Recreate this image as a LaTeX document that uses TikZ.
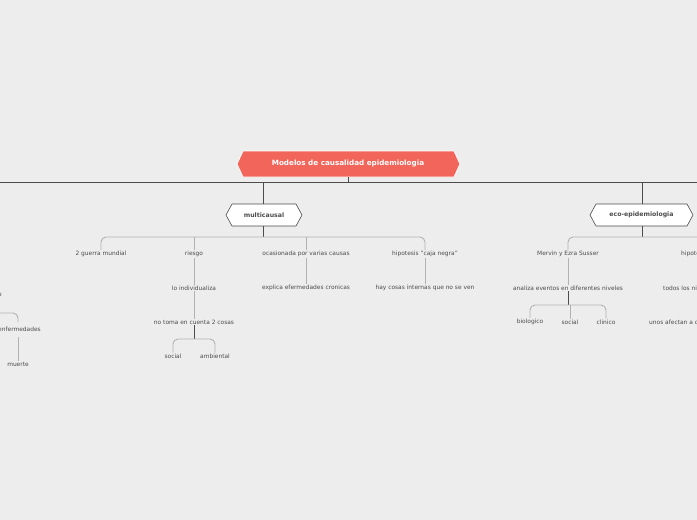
\documentclass[tikz,border=0pt]{standalone}
\usepackage{fontspec}
\setmainfont{DejaVu Sans}
\usetikzlibrary{positioning}
\definecolor{rootred}{HTML}{F2655B}

\begin{document}
\begin{tikzpicture}[
        x=1pt, y=-1pt,
        every node/.style={font=\fontsize{5.9}{6.5}\selectfont, text=black!70, inner sep=1pt},
        bold/.style={font=\fontsize{6.2}{7}\selectfont\bfseries},
        lnk/.style={draw=black!30, line width=0.9pt, rounded corners=5pt},
        main/.style={draw=black!70, line width=0.8pt}
    ]
        \useasboundingbox (0,0) rectangle (697,520);
        \clip (0,0) rectangle (697,520);
        \fill[black!7] (0,0) rectangle (697,520);

        % hexagons
        \fill[rootred, draw=white, line width=0.8pt] (237,164) -- (243,151) -- (454,151) -- (460,164) -- (454,177) -- (243,177) -- cycle;
        \node[font=\fontsize{7.2}{8}\selectfont\bfseries, text=white] (root) at (348,164) {Modelos de causalidad epidemiologia};
        \fill[white, draw=black!70, line width=0.6pt] (226,215) -- (232,204) -- (296,204) -- (302,215) -- (296,226) -- (232,226) -- cycle;
        \node[bold] (multi) at (264,215) {multicausal};
        \fill[white, draw=black!70, line width=0.6pt] (590,215) -- (596,204) -- (687,204) -- (693,215) -- (687,226) -- (596,226) -- cycle;
        \node[bold] (eco) at (641.5,215) {eco-epidemiologia};

        \coordinate (bus) at (348,182);
        \draw[main] (348,177) -- (bus);
        \draw[main] (0,182) -- (697,182);
        \draw[main] (263,182) -- (263,204);
        \draw[main] (642,182) -- (642,204);

        % multicausal branch
        \node (guerra) at (101,254) {2 guerra mundial};
        \node (riesgo) at (194,254) {riesgo};
        \node (ocas) at (306,254) {ocasionada por varias causas};
        \node (caja) at (425,254) {hipotesis "caja negra"};
        \draw[main] (263,226) -- (263,237);
        \draw[lnk] (guerra.north) -- (101,237) -- (425,237) -- (caja.north);
        \draw[lnk] (194,237) -- (riesgo.north);
        \draw[lnk] (306,237) -- (ocas.north);

        \node (indiv) at (194,288) {lo individualiza};
        \node (notoma) at (194,322) {no toma en cuenta 2 cosas};
        \node (social) at (173,356) {social};
        \node (amb) at (215,356) {ambiental};
        \node (explica) at (306,288) {explica efermedades cronicas};
        \node (ocultas) at (425,288) {hay cosas internas que no se ven};
        \draw[lnk] (riesgo) -- (indiv);
        \draw[lnk] (indiv) -- (notoma);
        \draw[lnk] (ocas) -- (explica);
        \draw[lnk] (caja) -- (ocultas);
        \draw[main] (notoma.south) -- (194,339);
        \draw[lnk] (social.north) -- (173,339) -- (215,339) -- (amb.north);

        % eco branch
        \node (susser) at (568,254) {Mervin y Ezra Susser};
        \node[anchor=west] (hipot) at (680,254) {hipotesis};
        \node (niveles) at (568,288) {analiza eventos en diferentes niveles};
        \node[anchor=west] (todos) at (662,288) {todos los niveles};
        \node[anchor=west] (unos) at (648,322) {unos afectan a otros};
        \node (bio) at (530,322) {biologico};
        \node (soc2) at (570,322) {social};
        \node (clin) at (606,322) {clinico};
        \draw[main] (642,226) -- (642,237);
        \draw[lnk] (susser.north) -- (568,237) -- (710,237);
        \draw[lnk] (susser) -- (niveles);
        \draw[lnk] (niveles) -- (568,305);
        \draw[main] (niveles.south) -- (568,305);
        \draw[lnk] (bio.north) -- (530,305) -- (606,305) -- (clin.north);
        \draw[lnk] (570,305) -- (soc2.north);

        % left branch, cut off
        \node[anchor=east] (tipo) at (3,295) {o};
        \node[anchor=east] (enf) at (42,329) {enfermedades};
        \node (muerte) at (18,364) {muerte};
        \draw[lnk] (-20,313) -- (18,313) -- (18,322);
        \draw[lnk] (18,337) -- (muerte.north);
    \end{tikzpicture}
\end{document}
